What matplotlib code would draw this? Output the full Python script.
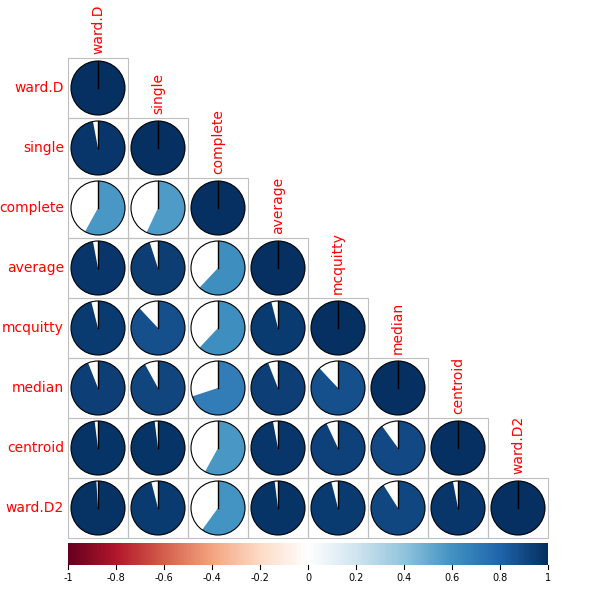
import matplotlib
matplotlib.use("Agg")
import matplotlib.pyplot as plt
import numpy as np
from matplotlib.colors import LinearSegmentedColormap
from matplotlib.patches import Wedge, Circle, Rectangle

labels = ["ward.D", "single", "complete", "average", "mcquitty", "median", "centroid", "ward.D2"]
# lower triangle rows (correlations with earlier columns)
lower = [
    [],
    [0.97],
    [0.58, 0.57],
    [0.97, 0.95, 0.62],
    [0.96, 0.88, 0.62, 0.96],
    [0.94, 0.92, 0.70, 0.94, 0.88],
    [0.98, 0.98, 0.58, 0.97, 0.93, 0.90],
    [0.99, 0.96, 0.60, 0.98, 0.96, 0.91, 0.97],
]
bar_ticks = [-1, -0.8, -0.6, -0.4, -0.2, 0, 0.2, 0.4, 0.6, 0.8, 1]

cmap = LinearSegmentedColormap.from_list("rdbu", [
    "#67001F", "#B2182B", "#D6604D", "#F4A582", "#FDDBC7", "#FFFFFF",
    "#D1E5F0", "#92C5DE", "#4393C3", "#2166AC", "#053061"])

n = len(labels)
x0, y0, cs = 68, 58, 60

fig = plt.figure(figsize=(6, 6), dpi=100)
ax = fig.add_axes([0, 0, 1, 1])
ax.set_xlim(0, 600)
ax.set_ylim(600, 0)
ax.axis("off")

for i in range(n):
    row = lower[i] + [1.0]
    for j, v in enumerate(row):
        cx, cy = x0 + j * cs + cs / 2, y0 + i * cs + cs / 2
        ax.add_patch(Rectangle((x0 + j * cs, y0 + i * cs), cs, cs, fill=False, ec="#bfbfbf", lw=0.8))
        r = 27
        ax.add_patch(Circle((cx, cy), r, fc="white", ec="none"))
        # y axis inverted: angles measured visually flipped
        ang = 360 * v
        ax.add_patch(Wedge((cx, cy), r, 270, 270 + ang, fc=cmap((v + 1) / 2), ec="none"))
        ax.add_patch(Circle((cx, cy), r, fill=False, ec="black", lw=0.8))
        ax.plot([cx, cx], [cy, cy - r], color="black", lw=1)
    ax.text(x0 - 4, y0 + i * cs + cs / 2, labels[i], color="red", ha="right", va="center", fontsize=10)
    ax.text(x0 + i * cs + cs / 2, y0 + i * cs - 4, labels[i], color="red", ha="center", va="bottom",
            rotation=90, fontsize=10)

# colorbar
grad = np.linspace(-1, 1, 400).reshape(1, -1)
ax.imshow(grad, cmap=cmap, vmin=-1, vmax=1, extent=(x0, x0 + n * cs, 565, 543), aspect="auto")
for t in bar_ticks:
    tx = x0 + (t + 1) / 2 * n * cs
    ax.plot([tx, tx], [565, 569], color="black", lw=0.8)
    ax.text(tx, 573, f"{t:g}", ha="center", va="top", fontsize=7)

fig.savefig("out.png", dpi=100)
